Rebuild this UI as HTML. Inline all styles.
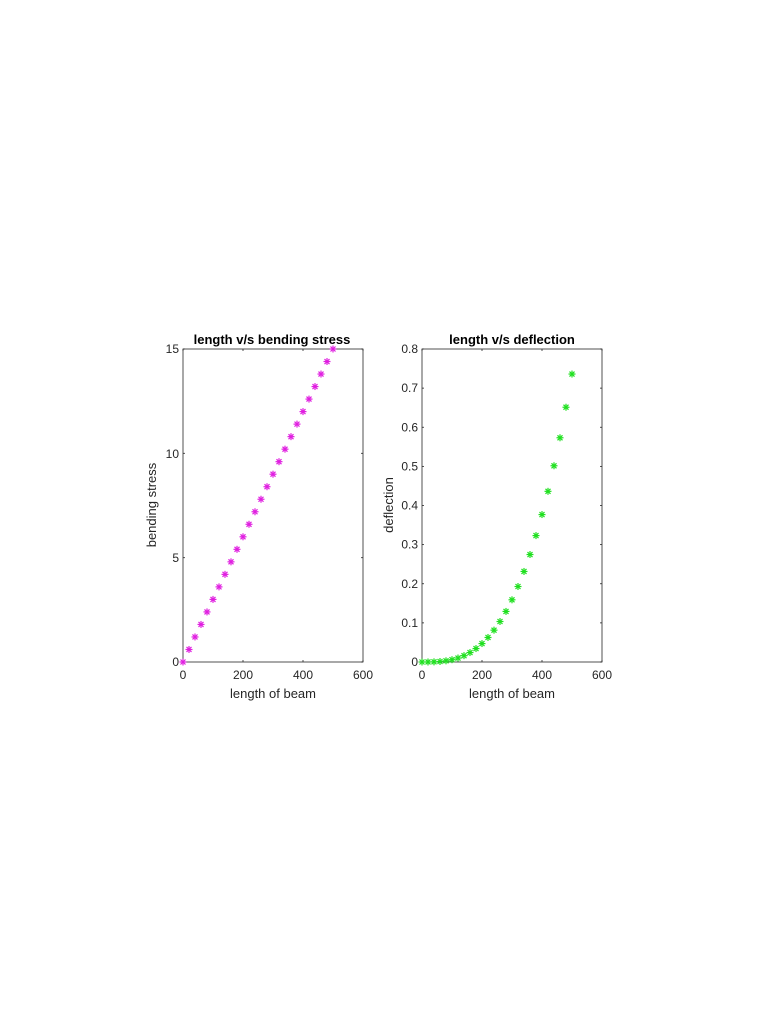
<!DOCTYPE html>
<html><head><meta charset="utf-8"><style>body{margin:0;background:#fff}svg{display:block}text{font-family:"Liberation Sans",sans-serif;}</style></head>
<body>
<svg id="s" width="768" height="1024" xmlns="http://www.w3.org/2000/svg">
<rect width="768" height="1024" fill="#fff"/>
<g font-size="12" fill="#262626">
<!-- left axes -->
<rect x="183" y="349" width="180" height="313" fill="none" stroke="#262626" stroke-width="0.8"/>
<text x="272" y="344" text-anchor="middle" font-weight="bold" font-size="13" fill="#000">length v/s bending stress</text>
<text x="183" y="679" text-anchor="middle">0</text>
<text x="243" y="679" text-anchor="middle">200</text>
<text x="303" y="679" text-anchor="middle">400</text>
<text x="363" y="679" text-anchor="middle">600</text>
<text x="273" y="698" text-anchor="middle" font-size="13">length of beam</text>
<text x="179" y="666" text-anchor="end">0</text>
<text x="179" y="562" text-anchor="end">5</text>
<text x="179" y="458" text-anchor="end">10</text>
<text x="179" y="353" text-anchor="end">15</text>
<text transform="translate(156,505) rotate(-90)" text-anchor="middle" font-size="13">bending stress</text>
<!-- right axes -->
<rect x="422" y="349" width="180" height="313" fill="none" stroke="#262626" stroke-width="0.8"/>
<text x="512" y="344" text-anchor="middle" font-weight="bold" font-size="13" fill="#000">length v/s deflection</text>
<text x="422" y="679" text-anchor="middle">0</text>
<text x="482" y="679" text-anchor="middle">200</text>
<text x="542" y="679" text-anchor="middle">400</text>
<text x="602" y="679" text-anchor="middle">600</text>
<text x="512" y="698" text-anchor="middle" font-size="13">length of beam</text>
<text transform="translate(393,505) rotate(-90)" text-anchor="middle" font-size="13">deflection</text>
</g>
<g id="ticks" stroke="#262626" stroke-width="0.8"></g>
<g id="m1" stroke="#e020e0" stroke-width="1.2"></g>
<g id="m2" stroke="#20e020" stroke-width="1.2"></g>
</svg>
<script>
var NS="http://www.w3.org/2000/svg";
function line(g,x1,y1,x2,y2){var l=document.createElementNS(NS,"line");l.setAttribute("x1",x1);l.setAttribute("y1",y1);l.setAttribute("x2",x2);l.setAttribute("y2",y2);g.appendChild(l);}
function star(g,x,y){var r=3.5,d=2.5;line(g,x-r,y,x+r,y);line(g,x,y-r,x,y+r);line(g,x-d,y-d,x+d,y+d);line(g,x-d,y+d,x+d,y-d);}
var t=document.getElementById("ticks");
[183,243,303,363].forEach(function(x){line(t,x,662,x,660);line(t,x,349,x,351);});
[422,482,542,602].forEach(function(x){line(t,x,662,x,660);line(t,x,349,x,351);});
[662,557.7,453.3,349].forEach(function(y){line(t,183,y,185,y);line(t,363,y,361,y);});
var g2=document.getElementById("s").querySelector("g");
for(var i=0;i<=8;i++){var v=i/10,y=662-313*v/0.8;line(t,422,y,424,y);line(t,602,y,600,y);
 var tx=document.createElementNS(NS,"text");tx.setAttribute("x",418);tx.setAttribute("y",y+4);tx.setAttribute("text-anchor","end");tx.textContent=(i==0?"0":v.toFixed(1));g2.appendChild(tx);}
var m1=document.getElementById("m1"),m2=document.getElementById("m2");
for(var x=0;x<=500;x+=20){
 star(m1,183+x*0.3,662-313*(0.03*x)/15);
 var d=0.736*Math.pow(x/500,3);
 star(m2,422+x*0.3,662-313*d/0.8);
}
</script>
</body></html>
